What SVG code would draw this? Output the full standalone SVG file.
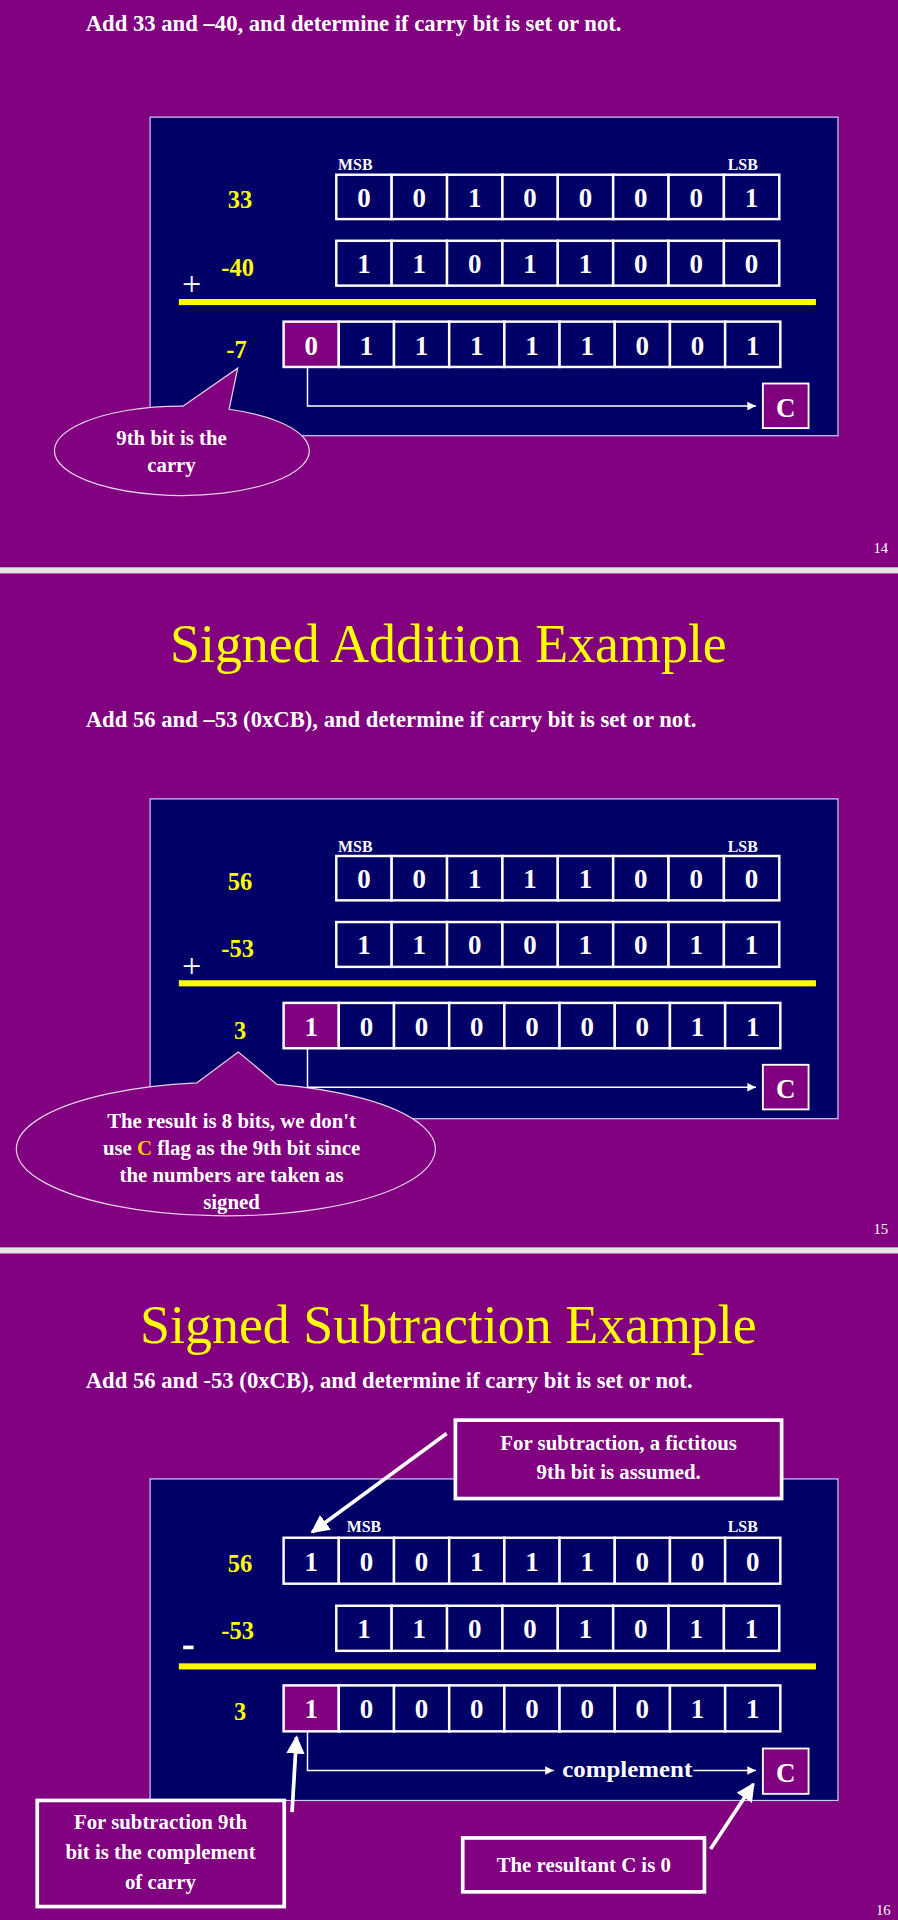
<svg xmlns="http://www.w3.org/2000/svg" width="898" height="1920" viewBox="0 0 898 1920">
<defs>
<style>
.bg{fill:#800080}
.panel{fill:#000066;stroke:#ccccff;stroke-width:1}
.cell{fill:#000066;stroke:#ffffff;stroke-width:2}
.pcell{fill:#800080;stroke:#ffffff;stroke-width:2}
.d{font-family:"Liberation Serif",serif;font-size:22px;font-weight:bold;fill:#fff;text-anchor:middle}
.lab{font-family:"Liberation Serif",serif;font-size:20px;font-weight:bold;fill:#ffff00;text-anchor:middle}
.ms{font-family:"Liberation Serif",serif;font-size:13px;font-weight:bold;fill:#fff}
.sub{font-family:"Liberation Serif",serif;font-size:18.5px;font-weight:bold;fill:#fff}
.title{font-family:"Liberation Serif",serif;font-size:44px;fill:#ffff00;text-anchor:middle}
.call{font-family:"Liberation Serif",serif;font-size:17px;font-weight:bold;fill:#fff;text-anchor:middle}
.num{font-family:"Liberation Serif",serif;font-size:12px;fill:#fff}
.ln{stroke:#fff;stroke-width:1.2;fill:none}
.thick{stroke:#fff;stroke-width:3;fill:none}
.cbox{fill:#800080;stroke:#ffffff;stroke-width:1.5}
.cbtext{fill:#800080;stroke:#ffffff;stroke-width:3}
</style>
<marker id="ah" viewBox="0 0 10 10" refX="10" refY="5" markerWidth="7" markerHeight="7" orient="auto" markerUnits="userSpaceOnUse"><path d="M0,0 L10,5 L0,10 z" fill="#fff"/></marker>
<marker id="ahb" viewBox="0 0 10 10" refX="9" refY="5" markerWidth="5" markerHeight="5" orient="auto"><path d="M0,0 L10,5 L0,10 z" fill="#fff"/></marker>
</defs>
<rect class="bg" x="0" y="0" width="898" height="1920"/>
<g transform="scale(1.2251,1.2253)">
<rect x="0" y="463" width="733" height="5" fill="#e6e6e6"/>
<rect x="0" y="1018" width="733" height="5" fill="#e6e6e6"/>

<g id="slide14">
<text class="sub" x="70" y="25">Add 33 and –40, and determine if carry bit is set or not.</text>
<rect class="panel" x="122.5" y="95.6" width="561.5" height="260"/>
<text class="ms" x="276" y="139">MSB</text><text class="ms" x="594" y="139">LSB</text>
<g id="r14a" transform="translate(0,142.6)">
<rect class="cell" x="274.5" y="0" width="45.2" height="36.2"/><rect class="cell" x="319.7" y="0" width="45.2" height="36.2"/><rect class="cell" x="364.9" y="0" width="45.2" height="36.2"/><rect class="cell" x="410.1" y="0" width="45.2" height="36.2"/><rect class="cell" x="455.3" y="0" width="45.2" height="36.2"/><rect class="cell" x="500.5" y="0" width="45.2" height="36.2"/><rect class="cell" x="545.7" y="0" width="45.2" height="36.2"/><rect class="cell" x="590.9" y="0" width="45.2" height="36.2"/>
<text class="d" x="297.1" y="26">0</text><text class="d" x="342.3" y="26">0</text><text class="d" x="387.5" y="26">1</text><text class="d" x="432.7" y="26">0</text><text class="d" x="477.9" y="26">0</text><text class="d" x="523.1" y="26">0</text><text class="d" x="568.3" y="26">0</text><text class="d" x="613.5" y="26">1</text>
</g>
<text class="lab" x="196" y="170">33</text>
<g id="r14b" transform="translate(0,196.5)">
<rect class="cell" x="274.5" y="0" width="45.2" height="36.6"/><rect class="cell" x="319.7" y="0" width="45.2" height="36.6"/><rect class="cell" x="364.9" y="0" width="45.2" height="36.6"/><rect class="cell" x="410.1" y="0" width="45.2" height="36.6"/><rect class="cell" x="455.3" y="0" width="45.2" height="36.6"/><rect class="cell" x="500.5" y="0" width="45.2" height="36.6"/><rect class="cell" x="545.7" y="0" width="45.2" height="36.6"/><rect class="cell" x="590.9" y="0" width="45.2" height="36.6"/>
<text class="d" x="297.1" y="26">1</text><text class="d" x="342.3" y="26">1</text><text class="d" x="387.5" y="26">0</text><text class="d" x="432.7" y="26">1</text><text class="d" x="477.9" y="26">1</text><text class="d" x="523.1" y="26">0</text><text class="d" x="568.3" y="26">0</text><text class="d" x="613.5" y="26">0</text>
</g>
<text class="lab" x="194" y="225">-40</text>
<text x="156.5" y="241" font-family="Liberation Serif, serif" font-size="28" fill="#fff" text-anchor="middle">+</text>
<rect x="146" y="244" width="520" height="5" fill="#ffff00"/>
<g id="r14c" transform="translate(0,262.5)">
<rect class="pcell" x="231.5" y="0" width="45.05" height="37"/><rect class="cell" x="276.55" y="0" width="45.05" height="37"/><rect class="cell" x="321.6" y="0" width="45.05" height="37"/><rect class="cell" x="366.65" y="0" width="45.05" height="37"/><rect class="cell" x="411.7" y="0" width="45.05" height="37"/><rect class="cell" x="456.75" y="0" width="45.05" height="37"/><rect class="cell" x="501.8" y="0" width="45.05" height="37"/><rect class="cell" x="546.85" y="0" width="45.05" height="37"/><rect class="cell" x="591.9" y="0" width="45.05" height="37"/>
<text class="d" x="254" y="27">0</text><text class="d" x="299.05" y="27">1</text><text class="d" x="344.1" y="27">1</text><text class="d" x="389.15" y="27">1</text><text class="d" x="434.2" y="27">1</text><text class="d" x="479.25" y="27">1</text><text class="d" x="524.3" y="27">0</text><text class="d" x="569.35" y="27">0</text><text class="d" x="614.4" y="27">1</text>
</g>
<text class="lab" x="193" y="292">-7</text>
<g id="c14"><rect class="cbox" x="622.7" y="313" width="37.3" height="36.4"/><text class="d" x="641.3" y="340">C</text></g>
<g id="bub14">
<path d="M149.6,331.4 L194,300.5 L187,334 A104,36.5 0 1 1 149.6,331.4 Z" fill="#800080" stroke="#e8d0e8" stroke-width="1"/>
<text class="call" x="140" y="363" font-size="15.5">9th bit is the</text>
<text class="call" x="140" y="385" font-size="15.5">carry</text>
</g>
<text class="num" x="713" y="451">14</text>
</g>

<g id="slide15">
<text class="title" x="366" y="540">Signed Addition Example</text>
<text class="sub" x="70" y="593">Add 56 and –53 (0xCB), and determine if carry bit is set or not.</text>
<rect class="panel" x="122.5" y="652" width="561.5" height="261"/>
<text class="ms" x="276" y="695">MSB</text><text class="ms" x="594" y="695">LSB</text>
<g id="r15a" transform="translate(0,698.6)">
<rect class="cell" x="274.5" y="0" width="45.2" height="36.2"/><rect class="cell" x="319.7" y="0" width="45.2" height="36.2"/><rect class="cell" x="364.9" y="0" width="45.2" height="36.2"/><rect class="cell" x="410.1" y="0" width="45.2" height="36.2"/><rect class="cell" x="455.3" y="0" width="45.2" height="36.2"/><rect class="cell" x="500.5" y="0" width="45.2" height="36.2"/><rect class="cell" x="545.7" y="0" width="45.2" height="36.2"/><rect class="cell" x="590.9" y="0" width="45.2" height="36.2"/>
<text class="d" x="297.1" y="26">0</text><text class="d" x="342.3" y="26">0</text><text class="d" x="387.5" y="26">1</text><text class="d" x="432.7" y="26">1</text><text class="d" x="477.9" y="26">1</text><text class="d" x="523.1" y="26">0</text><text class="d" x="568.3" y="26">0</text><text class="d" x="613.5" y="26">0</text>
</g>
<text class="lab" x="196" y="726">56</text>
<g id="r15b" transform="translate(0,752.5)">
<rect class="cell" x="274.5" y="0" width="45.2" height="36.6"/><rect class="cell" x="319.7" y="0" width="45.2" height="36.6"/><rect class="cell" x="364.9" y="0" width="45.2" height="36.6"/><rect class="cell" x="410.1" y="0" width="45.2" height="36.6"/><rect class="cell" x="455.3" y="0" width="45.2" height="36.6"/><rect class="cell" x="500.5" y="0" width="45.2" height="36.6"/><rect class="cell" x="545.7" y="0" width="45.2" height="36.6"/><rect class="cell" x="590.9" y="0" width="45.2" height="36.6"/>
<text class="d" x="297.1" y="26">1</text><text class="d" x="342.3" y="26">1</text><text class="d" x="387.5" y="26">0</text><text class="d" x="432.7" y="26">0</text><text class="d" x="477.9" y="26">1</text><text class="d" x="523.1" y="26">0</text><text class="d" x="568.3" y="26">1</text><text class="d" x="613.5" y="26">1</text>
</g>
<text class="lab" x="194" y="781">-53</text>
<text x="156.5" y="797" font-family="Liberation Serif, serif" font-size="28" fill="#fff" text-anchor="middle">+</text>
<rect x="146" y="800" width="520" height="5" fill="#ffff00"/>
<g id="r15c" transform="translate(0,818.5)">
<rect class="pcell" x="231.5" y="0" width="45.05" height="37"/><rect class="cell" x="276.55" y="0" width="45.05" height="37"/><rect class="cell" x="321.6" y="0" width="45.05" height="37"/><rect class="cell" x="366.65" y="0" width="45.05" height="37"/><rect class="cell" x="411.7" y="0" width="45.05" height="37"/><rect class="cell" x="456.75" y="0" width="45.05" height="37"/><rect class="cell" x="501.8" y="0" width="45.05" height="37"/><rect class="cell" x="546.85" y="0" width="45.05" height="37"/><rect class="cell" x="591.9" y="0" width="45.05" height="37"/>
<text class="d" x="254" y="27">1</text><text class="d" x="299.05" y="27">0</text><text class="d" x="344.1" y="27">0</text><text class="d" x="389.15" y="27">0</text><text class="d" x="434.2" y="27">0</text><text class="d" x="479.25" y="27">0</text><text class="d" x="524.3" y="27">0</text><text class="d" x="569.35" y="27">1</text><text class="d" x="614.4" y="27">1</text>
</g>
<text class="lab" x="196" y="848">3</text>
<g id="c15"><rect class="cbox" x="622.7" y="869" width="37.3" height="36.4"/><text class="d" x="641.3" y="896">C</text></g>
<g id="bub15">
<path d="M160.5,883.8 L194.5,858.5 L225.9,884.9 A171,54.5 0 1 1 160.5,883.8 Z" fill="#800080" stroke="#e8d0e8" stroke-width="1"/>
<text class="call" x="189" y="921">The result is 8 bits, we don't</text>
<text class="call" x="189" y="943">use <tspan fill="#ffcc00">C</tspan> flag as the 9th bit since</text>
<text class="call" x="189" y="964.6">the numbers are taken as</text>
<text class="call" x="189" y="986.4">signed</text>
</g>
<text class="num" x="713" y="1007">15</text>
</g>

<g id="slide16">
<text class="title" x="366" y="1096">Signed Subtraction Example</text>
<text class="sub" x="70" y="1133">Add 56 and -53 (0xCB), and determine if carry bit is set or not.</text>
<rect class="panel" x="122.5" y="1207" width="561.5" height="262.4"/>
<text class="ms" x="283" y="1250">MSB</text><text class="ms" x="594" y="1250">LSB</text>
<g id="r16a" transform="translate(0,1255)">
<rect class="cell" x="231.5" y="0" width="45.05" height="37.5"/><rect class="cell" x="276.55" y="0" width="45.05" height="37.5"/><rect class="cell" x="321.6" y="0" width="45.05" height="37.5"/><rect class="cell" x="366.65" y="0" width="45.05" height="37.5"/><rect class="cell" x="411.7" y="0" width="45.05" height="37.5"/><rect class="cell" x="456.75" y="0" width="45.05" height="37.5"/><rect class="cell" x="501.8" y="0" width="45.05" height="37.5"/><rect class="cell" x="546.85" y="0" width="45.05" height="37.5"/><rect class="cell" x="591.9" y="0" width="45.05" height="37.5"/>
<text class="d" x="254" y="27">1</text><text class="d" x="299.05" y="27">0</text><text class="d" x="344.1" y="27">0</text><text class="d" x="389.15" y="27">1</text><text class="d" x="434.2" y="27">1</text><text class="d" x="479.25" y="27">1</text><text class="d" x="524.3" y="27">0</text><text class="d" x="569.35" y="27">0</text><text class="d" x="614.4" y="27">0</text>
</g>
<text class="lab" x="196" y="1283">56</text>
<g id="r16b" transform="translate(0,1310.5)">
<rect class="cell" x="274.5" y="0" width="45.2" height="36.8"/><rect class="cell" x="319.7" y="0" width="45.2" height="36.8"/><rect class="cell" x="364.9" y="0" width="45.2" height="36.8"/><rect class="cell" x="410.1" y="0" width="45.2" height="36.8"/><rect class="cell" x="455.3" y="0" width="45.2" height="36.8"/><rect class="cell" x="500.5" y="0" width="45.2" height="36.8"/><rect class="cell" x="545.7" y="0" width="45.2" height="36.8"/><rect class="cell" x="590.9" y="0" width="45.2" height="36.8"/>
<text class="d" x="297.1" y="26.5">1</text><text class="d" x="342.3" y="26.5">1</text><text class="d" x="387.5" y="26.5">0</text><text class="d" x="432.7" y="26.5">0</text><text class="d" x="477.9" y="26.5">1</text><text class="d" x="523.1" y="26.5">0</text><text class="d" x="568.3" y="26.5">1</text><text class="d" x="613.5" y="26.5">1</text>
</g>
<text class="lab" x="194" y="1338">-53</text>
<rect x="149.5" y="1343" width="8.5" height="3" fill="#fff"/>
<rect x="146" y="1357.5" width="520" height="5" fill="#ffff00"/>
<g id="r16c" transform="translate(0,1375.5)">
<rect class="pcell" x="231.5" y="0" width="45.05" height="37.5"/><rect class="cell" x="276.55" y="0" width="45.05" height="37.5"/><rect class="cell" x="321.6" y="0" width="45.05" height="37.5"/><rect class="cell" x="366.65" y="0" width="45.05" height="37.5"/><rect class="cell" x="411.7" y="0" width="45.05" height="37.5"/><rect class="cell" x="456.75" y="0" width="45.05" height="37.5"/><rect class="cell" x="501.8" y="0" width="45.05" height="37.5"/><rect class="cell" x="546.85" y="0" width="45.05" height="37.5"/><rect class="cell" x="591.9" y="0" width="45.05" height="37.5"/>
<text class="d" x="254" y="27">1</text><text class="d" x="299.05" y="27">0</text><text class="d" x="344.1" y="27">0</text><text class="d" x="389.15" y="27">0</text><text class="d" x="434.2" y="27">0</text><text class="d" x="479.25" y="27">0</text><text class="d" x="524.3" y="27">0</text><text class="d" x="569.35" y="27">1</text><text class="d" x="614.4" y="27">1</text>
</g>
<text class="lab" x="196" y="1404">3</text>
<text x="459" y="1450" font-family="Liberation Serif, serif" font-size="18" font-weight="bold" fill="#fff" textLength="106" lengthAdjust="spacingAndGlyphs">complement</text>
<g id="c16"><rect class="cbox" x="622.7" y="1427" width="37.3" height="37"/><text class="d" x="641.3" y="1454">C</text></g>
<g id="co16a"><rect class="cbtext" x="371.7" y="1159" width="266.3" height="64"/>
<text class="call" x="505" y="1183.5">For subtraction, a fictitous</text>
<text class="call" x="505" y="1207">9th bit is assumed.</text></g>
<g id="co16b"><rect class="cbtext" x="30.4" y="1469.4" width="201.6" height="86.6"/>
<text class="call" x="131" y="1492.5">For subtraction 9th</text>
<text class="call" x="131" y="1517">bit is the complement</text>
<text class="call" x="131" y="1541.5">of carry</text></g>
<g id="co16c"><rect class="cbtext" x="377.7" y="1500" width="197.3" height="44"/>
<text class="call" x="476.5" y="1528">The resultant C is 0</text></g>
<text class="num" x="715" y="1563">16</text>
</g>

<g id="connectors">
<polyline class="ln" points="251,300 251,331.4 617,331.4" marker-end="url(#ah)"/>
<polyline class="ln" points="251,856 251,887.4 617,887.4" marker-end="url(#ah)"/>
<polyline class="ln" points="251,1413 251,1445 452,1445" marker-end="url(#ah)"/>
<line class="ln" x1="566" y1="1445" x2="617" y2="1445" marker-end="url(#ah)"/>
<line class="thick" x1="364.6" y1="1170" x2="254.8" y2="1250.4" marker-end="url(#ahb)"/>
<line class="thick" x1="238.4" y1="1479" x2="242" y2="1417.7" marker-end="url(#ahb)"/>
<line class="thick" x1="580" y1="1509" x2="615" y2="1456" marker-end="url(#ahb)"/>
</g>
</g>
</svg>
